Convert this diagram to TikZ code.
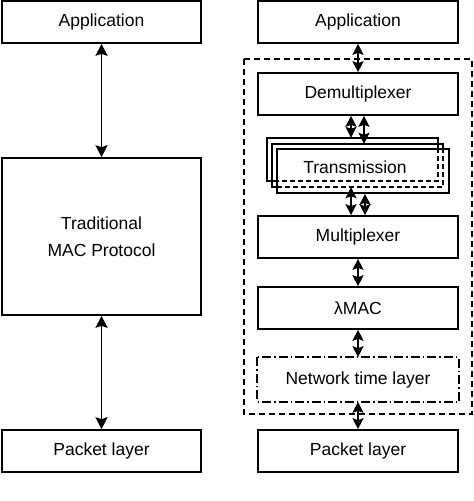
\documentclass[tikz,border=0pt]{standalone}
\usepackage{fontspec}
\setmainfont{Liberation Sans}
\usetikzlibrary{arrows.meta}
\begin{document}
\begin{tikzpicture}[x=1pt,y=-1pt,
  every node/.style={font=\fontsize{17.5}{27}\selectfont},
  box/.style={draw, line width=1.6pt, inner sep=0pt, minimum width=#1, align=center},
  box/.default=200pt,
  txbox/.style={inner sep=0pt, minimum width=171pt, minimum height=43pt},
  link/.style={line width=1.6pt, {Stealth[length=12pt,width=12pt,inset=2pt]}-{Stealth[length=12pt,width=12pt,inset=2pt]}},
  slink/.style={line width=1.6pt, {Stealth[length=11pt,width=11pt,inset=2pt]}-{Stealth[length=11pt,width=11pt,inset=2pt]}},
  hidden/.style={line width=1.5pt, dash pattern=on 5pt off 3pt},
  frame/.style={line width=2pt, dash pattern=on 6pt off 4pt},
  dashdot/.style={line width=1.6pt, dash pattern=on 9pt off 3pt on 1.5pt off 3pt}]
\useasboundingbox (0,0) rectangle (474,501);
% left column
\node[box=199pt, minimum height=42pt] (app1) at (101.5,22) {Application};
\node[box=199pt, minimum height=157pt] (mac1) at (101.5,236.5) {Traditional\\MAC Protocol};
\node[box=199pt, minimum height=42pt] (pkt1) at (101.5,451) {Packet layer};
\draw[link] (app1.south) -- (mac1.north);
\draw[link] (mac1.south) -- (pkt1.north);
% right column
\draw[frame] (244,59) rectangle (472,414);
\node[box, minimum height=42pt] (app2) at (358,22) {Application};
\node[box, minimum height=42pt] (demux) at (358,94) {Demultiplexer};
% transmission stack
\node[txbox] (tx3) at (352.5,159.5) {};
\node[txbox] (tx2) at (357.5,165.5) {};
\node[txbox, draw, line width=1.6pt, minimum width=172pt, minimum height=44pt] (tx1) at (363,171) {};
\node (txt) at (355,167) {Transmission};
\foreach \b in {tx3,tx2}{
  \draw[line width=1.6pt] (tx1.west |- \b.south) -- (\b.south west) -- (\b.north west) -- (\b.north east) -- (\b.north east |- tx1.north);
  \draw[hidden] (\b.north east |- tx1.north) -- (\b.south east) -- (tx1.west |- \b.south);
}
\node[box, minimum height=42pt] (mux) at (358,237) {Multiplexer};
\node[box, minimum height=42pt] (lmac) at (358,308) {λMAC};
\node[box, draw=none, minimum height=43pt] (ntl) at (358,379.5) {Network time layer};
\draw[dashdot] (ntl.north west) rectangle (ntl.south east);
\node[box, minimum height=42pt] (pkt2) at (358,451) {Packet layer};
% connectors
\draw[slink] (app2.south) -- (demux.north);
\draw[slink] ([xshift=-7pt]demux.south) -- ([xshift=-7pt]demux.south |- tx3.north);
\draw[slink] ([xshift=6pt]demux.south) -- ([xshift=6pt]demux.south |- tx2.north);
\draw[slink] ([xshift=-7pt]demux.south |- tx2.south) -- ([xshift=-7pt]mux.north);
\draw[slink] ([xshift=7pt]demux.south |- tx1.south) -- ([xshift=7pt]mux.north);
\draw[slink] (mux.south) -- (lmac.north);
\draw[slink] (lmac.south) -- (ntl.north);
\draw[slink] (ntl.south) -- (pkt2.north);
\end{tikzpicture}
\end{document}
